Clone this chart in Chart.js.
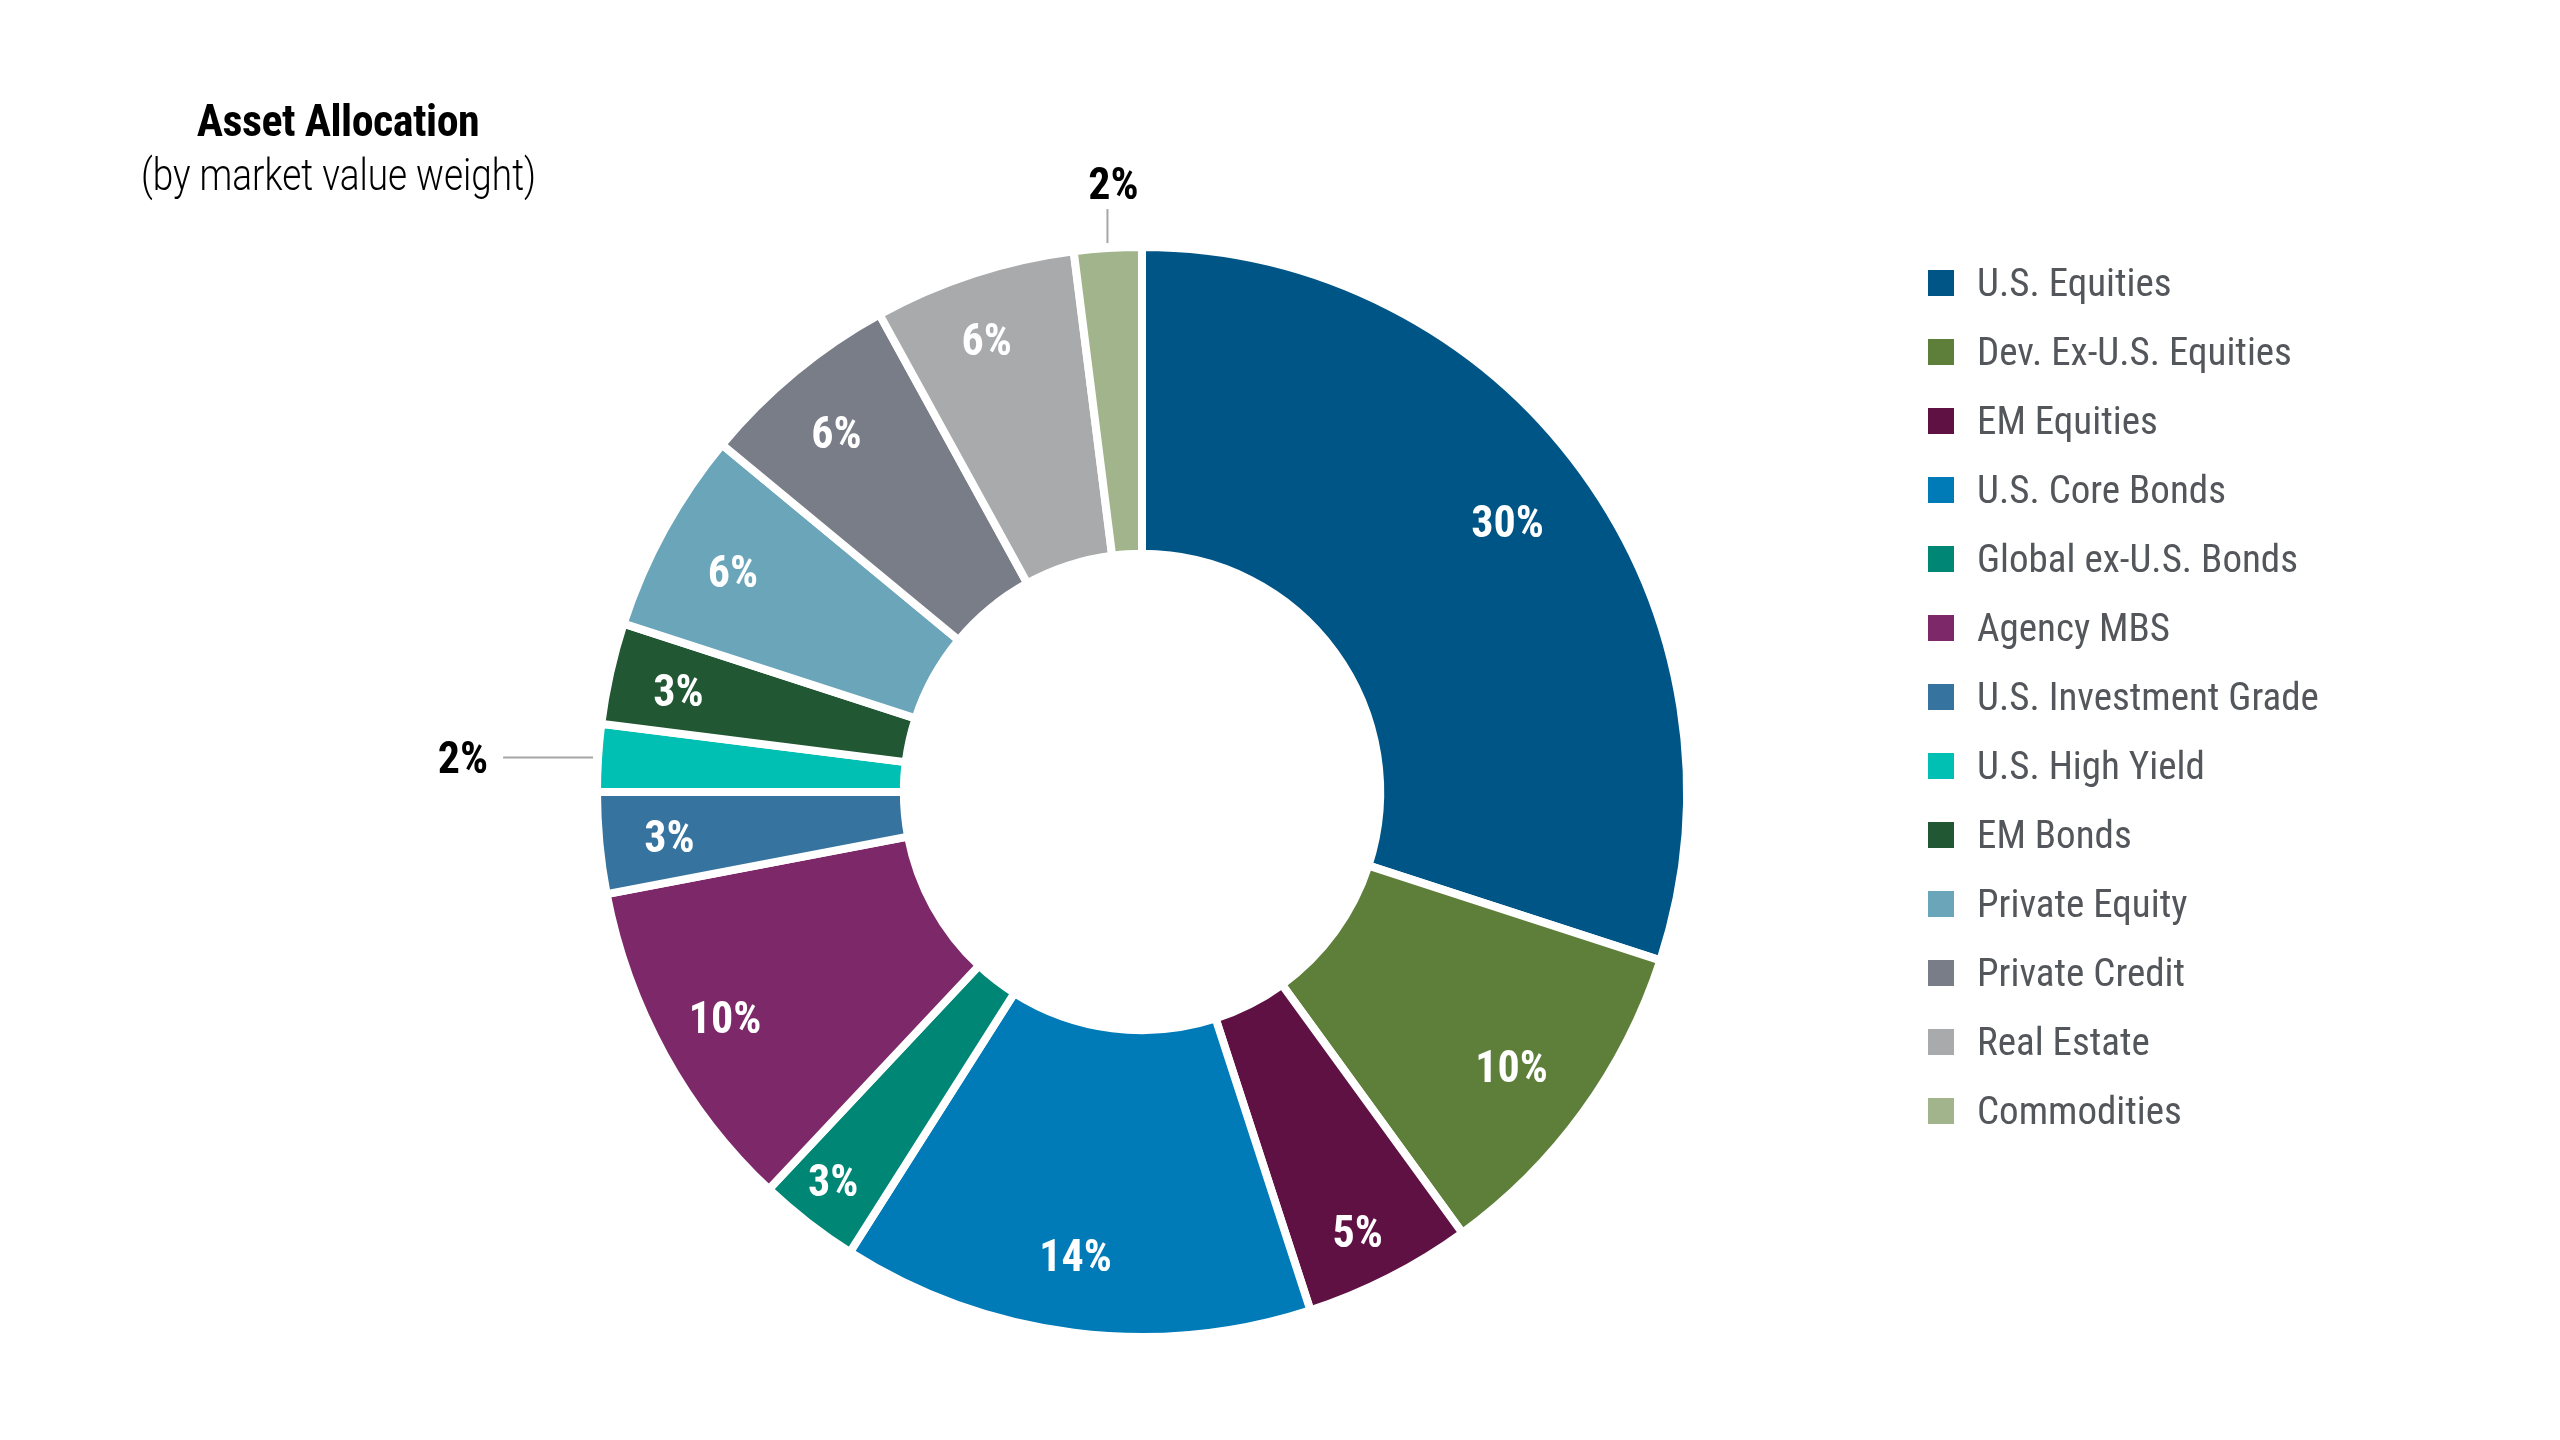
<!DOCTYPE html>
<html>
<head>
<meta charset="utf-8">
<title>Asset Allocation</title>
<script src="https://cdn.jsdelivr.net/npm/chart.js@4.4.1/dist/chart.umd.min.js"></script>
<style>
  html, body { margin: 0; padding: 0; background: #fff; }
  #wrap { position: relative; width: 2560px; height: 1440px; overflow: hidden; }
  #chartBox { position: absolute; left: 0; top: 0; width: 2560px; height: 1440px; }
  .title {
    position: absolute; left: 38px; top: 94px; width: 600px;
    text-align: center; color: #000; font-size: 44px; line-height: 54px;
  }
  .title b {
    display: block; font-weight: 700; letter-spacing: -0.5px;
    font-family: 'Roboto Condensed', Roboto, sans-serif;
  }
  /* no light condensed face installed, so squeeze Roboto Light */
  .title span {
    display: inline-block; font-weight: 300; white-space: nowrap;
    font-family: Roboto, sans-serif; transform-origin: 50% 50%;
  }
  #legend {
    position: absolute; left: 1928px; top: 248px;
    list-style: none; margin: 0; padding: 0;
    font-family: 'Roboto Condensed', Roboto, sans-serif; font-size: 39px; color: #53565a;
  }
  #legend li { height: 69px; display: flex; align-items: center; white-space: nowrap; }
  #legend i { display: inline-block; width: 26px; height: 26px; margin-right: 23px; }
</style>
</head>
<body>
<div id="wrap">
  <div id="chartBox"><canvas id="allocChart"></canvas></div>
  <div class="title"><b>Asset Allocation</b><span id="subTitle">(by market value weight)</span></div>
  <ul id="legend"></ul>
</div>

<script>
// categories and weights (%)
const assetClasses = [
  "U.S. Equities",
  "Dev. Ex-U.S. Equities",
  "EM Equities",
  "U.S. Core Bonds",
  "Global ex-U.S. Bonds",
  "Agency MBS",
  "U.S. Investment Grade",
  "U.S. High Yield",
  "EM Bonds",
  "Private Equity",
  "Private Credit",
  "Real Estate",
  "Commodities"
];
const weights = [30, 10, 5, 14, 3, 10, 3, 2, 3, 6, 6, 6, 2];

const sliceColors = [
  "#005587", "#5e7f3a", "#5f1143", "#007bb8", "#008675", "#7d2869", "#36739e",
  "#00bfb3", "#215733", "#6aa5ba", "#797d87", "#a9aaac", "#a2b48b"
];

// slices below this get their label outside with a leader line
const SMALL = 2.5;

const sliceLabels = {
  id: "sliceLabels",
  afterDatasetsDraw(chart, args, opts) {
    const ctx = chart.ctx;
    const meta = chart.getDatasetMeta(0);
    const vals = chart.data.datasets[0].data;
    const nudge = opts.nudge || {};
    ctx.save();
    ctx.font = "bold 44px 'Roboto Condensed', Roboto, sans-serif";
    meta.data.forEach((arc, i) => {
      const p = arc.getProps(["x", "y", "startAngle", "endAngle", "innerRadius", "outerRadius"], true);
      const mid = (p.startAngle + p.endAngle) / 2;
      const cos = Math.cos(mid), sin = Math.sin(mid);
      const txt = vals[i] + "%";

      if (vals[i] >= SMALL) {
        const r = p.innerRadius + 0.745 * (p.outerRadius - p.innerRadius) + (nudge[i] || 0);
        ctx.fillStyle = "#fff";
        ctx.textAlign = "center";
        ctx.textBaseline = "alphabetic";
        ctx.fillText(txt, p.x + cos * r - 8, p.y + sin * r + 16);
        return;
      }

      // outside label
      const r0 = p.outerRadius + 5;
      const x0 = p.x + cos * r0, y0 = p.y + sin * r0;
      ctx.strokeStyle = "#a6a6a6";
      ctx.lineWidth = 2;
      ctx.fillStyle = "#000";
      ctx.beginPath();
      if (Math.abs(cos) > Math.abs(sin)) {
        const sx = Math.sign(cos);
        const x1 = x0 + sx * 90;
        ctx.moveTo(x0, y0);
        ctx.lineTo(x1, y0);
        ctx.stroke();
        ctx.textAlign = sx < 0 ? "right" : "left";
        ctx.textBaseline = "alphabetic";
        ctx.fillText(txt, x1 + sx * 15, y0 + 16);
      } else {
        const sy = Math.sign(sin);
        const y1 = y0 + sy * 34;
        ctx.moveTo(x0, y0);
        ctx.lineTo(x0, y1);
        ctx.stroke();
        ctx.textAlign = "center";
        ctx.textBaseline = sy < 0 ? "alphabetic" : "top";
        ctx.fillText(txt, x0 + 6, y1 + sy * 10);
      }
    });
    ctx.restore();
  }
};

// legend as html list, built from the chart's own legend items
const htmlLegend = {
  id: "htmlLegend",
  afterUpdate(chart) {
    const ul = document.getElementById("legend");
    ul.innerHTML = "";
    const items = chart.options.plugins.legend.labels.generateLabels(chart);
    items.forEach(item => {
      const li = document.createElement("li");
      const box = document.createElement("i");
      box.style.background = item.fillStyle;
      li.appendChild(box);
      li.appendChild(document.createTextNode(item.text));
      ul.appendChild(li);
    });
  }
};

function draw() {
  // fit the light subtitle to the width it has in the original
  const sub = document.getElementById("subTitle");
  sub.style.transform = "scaleX(" + (395 / sub.offsetWidth).toFixed(3) + ")";

  const ctx = document.getElementById("allocChart");
  new Chart(ctx, {
    type: "doughnut",
    data: {
      labels: assetClasses,
      datasets: [{
        data: weights,
        backgroundColor: sliceColors,
        borderColor: "#fff",
        borderWidth: 8,
        borderJoinStyle: "miter",
        hoverOffset: 0
      }]
    },
    options: {
      responsive: true,
      maintainAspectRatio: false,
      animation: false,
      events: [],
      radius: 545,
      cutout: "43.7%",
      layout: { padding: { left: 0, right: 276, top: 144, bottom: 0 } },
      plugins: {
        legend: { display: false },
        tooltip: { enabled: false },
        // a few labels sit a bit off the middle radius in the original
        sliceLabels: { nudge: { 0: -5, 2: 26, 4: 24, 9: -9, 11: 10 } }
      }
    },
    plugins: [sliceLabels, htmlLegend]
  });
}

Promise.all([
  document.fonts.load("bold 44px 'Roboto Condensed'"),
  document.fonts.load("39px 'Roboto Condensed'"),
  document.fonts.load("300 44px Roboto")
]).then(draw, draw);
</script>
</body>
</html>
